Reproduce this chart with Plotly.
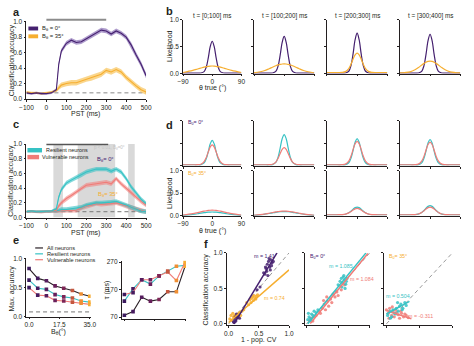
import plotly.graph_objects as go

W, H = 474, 346
def px(x): return x / W
def py(y): return 1 - y / H

FONT = 'Liberation Sans, Arial, Helvetica, sans-serif'
DARK = '#231f20'
PURPLE = '#45206f'
ORANGE = '#f6ae2f'
CYAN = '#36c2c4'
SALMON = '#f07c78'
GREY = '#8c8c8c'

# ---------------- data ----------------
PST = [-100, -75, -50, -25, 0, 25, 50, 62, 75, 100, 125, 150, 175, 200, 225, 250,
       275, 300, 325, 350, 375, 400, 425, 450, 475, 500]
ACC_0 = [0.08, 0.07, 0.08, 0.07, 0.07, 0.08, 0.12, 0.45, 0.62, 0.72, 0.76, 0.73, 0.74,
         0.78, 0.82, 0.85, 0.89, 0.88, 0.84, 0.88, 0.85, 0.80, 0.70, 0.57, 0.45, 0.30]
SEM_0 = [0.015, 0.015, 0.015, 0.015, 0.015, 0.015, 0.02, 0.03, 0.03, 0.03, 0.03, 0.03,
         0.03, 0.03, 0.03, 0.03, 0.03, 0.03, 0.03, 0.03, 0.03, 0.03, 0.035, 0.035, 0.035, 0.035]
ACC_35 = [0.09, 0.08, 0.08, 0.07, 0.08, 0.09, 0.11, 0.15, 0.18, 0.20, 0.21, 0.21, 0.23,
          0.26, 0.27, 0.29, 0.32, 0.37, 0.35, 0.38, 0.35, 0.28, 0.22, 0.17, 0.12, 0.09]
SEM_35 = [0.015, 0.015, 0.015, 0.015, 0.015, 0.015, 0.02, 0.03, 0.035, 0.035, 0.035, 0.035,
          0.035, 0.035, 0.035, 0.035, 0.035, 0.035, 0.035, 0.035, 0.035, 0.035, 0.035, 0.035, 0.035, 0.035]
CHANCE = 0.08
SIG_BAR_A = [0, 300]

RES_0 = [0.08, 0.09, 0.08, 0.08, 0.08, 0.09, 0.12, 0.28, 0.38, 0.47, 0.51, 0.55, 0.58,
         0.62, 0.64, 0.66, 0.66, 0.66, 0.63, 0.66, 0.62, 0.53, 0.42, 0.33, 0.25, 0.19]
VUL_0 = [0.08, 0.09, 0.08, 0.08, 0.08, 0.09, 0.10, 0.16, 0.20, 0.26, 0.30, 0.35, 0.40,
         0.44, 0.45, 0.46, 0.47, 0.48, 0.46, 0.53, 0.46, 0.40, 0.33, 0.28, 0.22, 0.17]
RES_35 = [0.08, 0.09, 0.08, 0.08, 0.08, 0.08, 0.09, 0.10, 0.11, 0.11, 0.12, 0.12, 0.14,
          0.17, 0.19, 0.20, 0.20, 0.20, 0.21, 0.22, 0.20, 0.17, 0.14, 0.11, 0.09, 0.08]
VUL_35 = [0.08, 0.08, 0.08, 0.07, 0.08, 0.08, 0.08, 0.09, 0.09, 0.09, 0.10, 0.10, 0.13,
          0.16, 0.17, 0.19, 0.18, 0.18, 0.19, 0.20, 0.18, 0.16, 0.13, 0.11, 0.09, 0.08]
SEM_C = [0.015, 0.015, 0.015, 0.015, 0.015, 0.015, 0.02, 0.025, 0.03, 0.03, 0.03, 0.03, 0.03,
         0.03, 0.03, 0.03, 0.03, 0.03, 0.03, 0.03, 0.03, 0.03, 0.03, 0.03, 0.03, 0.03]
SIG_WINDOWS = [(35, 83), (157, 345), (410, 443)]
SIG_BAR_C = [0, 310]

# likelihood curves: values at THETA_HALF (symmetric around 0)
THETA_HALF = [-90, -60, -45, -35, -25, -18, -12, -6, 0]
B_TITLES = ['t = [0;100] ms', 't = [100;200] ms', 't = [200;300] ms', 't = [300;400] ms']
B_0 = [[0.01, 0.01, 0.01, 0.011, 0.036, 0.127, 0.297, 0.503, 0.60],
       [0.01, 0.01, 0.01, 0.011, 0.040, 0.145, 0.341, 0.578, 0.69],
       [0.01, 0.01, 0.01, 0.011, 0.043, 0.157, 0.370, 0.628, 0.75],
       [0.01, 0.01, 0.01, 0.011, 0.042, 0.153, 0.361, 0.611, 0.73]]
B_35 = [[0.019, 0.058, 0.085, 0.103, 0.120, 0.129, 0.135, 0.139, 0.14],
        [0.011, 0.052, 0.089, 0.118, 0.145, 0.161, 0.171, 0.178, 0.18],
        [0.02, 0.02, 0.022, 0.036, 0.093, 0.178, 0.269, 0.348, 0.38],
        [0.011, 0.032, 0.07, 0.111, 0.158, 0.189, 0.211, 0.225, 0.23]]
D0_RES = [[0.02, 0.02, 0.02, 0.023, 0.061, 0.161, 0.318, 0.485, 0.56],
          [0.02, 0.02, 0.02, 0.024, 0.071, 0.196, 0.39, 0.598, 0.69],
          [0.02, 0.02, 0.02, 0.023, 0.064, 0.172, 0.34, 0.52, 0.60],
          [0.02, 0.02, 0.02, 0.023, 0.063, 0.167, 0.329, 0.503, 0.58]]
D0_VUL = [[0.02, 0.02, 0.021, 0.032, 0.089, 0.189, 0.307, 0.416, 0.46],
          [0.02, 0.02, 0.021, 0.03, 0.08, 0.166, 0.268, 0.362, 0.40],
          [0.02, 0.02, 0.021, 0.034, 0.102, 0.219, 0.36, 0.487, 0.54],
          [0.02, 0.02, 0.021, 0.034, 0.099, 0.212, 0.347, 0.47, 0.52]]
D35_RES = [[0.006, 0.026, 0.042, 0.055, 0.066, 0.072, 0.076, 0.079, 0.08],
           [0.007, 0.029, 0.048, 0.061, 0.074, 0.081, 0.086, 0.089, 0.09],
           [0.02, 0.02, 0.022, 0.031, 0.062, 0.103, 0.143, 0.177, 0.19],
           [0.02, 0.02, 0.022, 0.033, 0.07, 0.117, 0.165, 0.205, 0.22]]
D35_VUL = [[0.012, 0.043, 0.068, 0.085, 0.1, 0.109, 0.115, 0.119, 0.12],
           [0.008, 0.033, 0.053, 0.068, 0.082, 0.09, 0.096, 0.099, 0.10],
           [0.02, 0.02, 0.023, 0.033, 0.061, 0.094, 0.126, 0.15, 0.16],
           [0.02, 0.02, 0.023, 0.036, 0.07, 0.11, 0.148, 0.178, 0.19]]

B_THETA = [0, 5, 10, 15, 20, 25, 30, 35]
MAXACC_ALL = [0.83, 0.66, 0.62, 0.53, 0.49, 0.45, 0.39, 0.35]
MAXACC_RES = [0.63, 0.49, 0.47, 0.38, 0.34, 0.32, 0.27, 0.25]
MAXACC_VUL = [0.50, 0.37, 0.36, 0.28, 0.27, 0.25, 0.23, 0.21]
TAU_ALL = [77, 90, 142, 128, 134, 162, 162, 255]
TAU_RES = [128, 173, 206, 190, 220, 237, 255, 258]
TAU_VUL = [152, 159, 206, 206, 220, 234, 203, 270]
BTHETA_COLORS = ['#3b1a5e', '#461b5f', '#561d5e', '#681f5b', '#7d2556', '#c4573f', '#ef8f34', '#f6ab33']

F1_0_X = [0.60, 0.62, 0.64, 0.66, 0.68, 0.70, 0.72, 0.63, 0.67, 0.71, 0.65, 0.69, 0.61, 0.74, 0.58,
          0.52, 0.47, 0.08, 0.10, 0.12, 0.14, 0.16, 0.11, 0.13, 0.09, 0.18]
F1_0_Y = [0.70, 0.78, 0.84, 0.88, 0.80, 0.90, 0.86, 0.74, 0.92, 0.82, 0.68, 0.76, 0.80, 0.88, 0.72,
          0.52, 0.48, 0.03, 0.06, 0.04, 0.09, 0.12, 0.10, 0.14, 0.02, 0.08]
F1_35_X = [0.35, 0.38, 0.40, 0.42, 0.44, 0.46, 0.48, 0.37, 0.41, 0.45, 0.30, 0.33, 0.02, 0.05, 0.08,
           0.10, 0.12, 0.15, 0.18, 0.20, 0.22, 0.25, 0.04, 0.07, 0.13, 0.17]
F1_35_Y = [0.34, 0.36, 0.38, 0.40, 0.36, 0.39, 0.41, 0.30, 0.33, 0.35, 0.30, 0.27, 0.07, 0.05, 0.10,
           0.12, 0.08, 0.14, 0.16, 0.12, 0.18, 0.20, 0.12, 0.15, 0.11, 0.09]
F2_RES_X = [0.50, 0.53, 0.55, 0.57, 0.58, 0.60, 0.62, 0.64, 0.56, 0.59, 0.61, 0.63, 0.02, 0.04, 0.06,
            0.08, 0.10, 0.12, 0.15, 0.18, 0.03, 0.07]
F2_RES_Y = [0.55, 0.60, 0.64, 0.58, 0.66, 0.62, 0.56, 0.64, 0.52, 0.68, 0.50, 0.60, 0.06, 0.10, 0.08,
            0.14, 0.12, 0.18, 0.16, 0.20, 0.15, 0.05]
F2_VUL_X = [0.15, 0.20, 0.25, 0.28, 0.30, 0.33, 0.35, 0.38, 0.40, 0.42, 0.45, 0.48, 0.50, 0.55, 0.60,
            0.05, 0.08, 0.10, 0.12, 0.22, 0.27, 0.32]
F2_VUL_Y = [0.12, 0.18, 0.22, 0.28, 0.20, 0.32, 0.25, 0.35, 0.30, 0.42, 0.38, 0.45, 0.40, 0.48, 0.55,
            0.05, 0.08, 0.04, 0.10, 0.15, 0.33, 0.38]
F3_RES_X = [0.02, 0.05, 0.08, 0.10, 0.12, 0.15, 0.18, 0.20, 0.22, 0.25, 0.28, 0.30, 0.06, 0.14, 0.24, 0.17]
F3_RES_Y = [0.12, 0.18, 0.10, 0.20, 0.15, 0.22, 0.18, 0.25, 0.28, 0.22, 0.30, 0.26, 0.08, 0.14, 0.20, 0.30]
F3_VUL_X = [0.00, 0.03, 0.05, 0.08, 0.10, 0.12, 0.15, 0.18, 0.20, 0.23, 0.26, 0.30, 0.33, 0.04, 0.09,
            0.14, 0.22, 0.28]
F3_VUL_Y = [0.20, 0.15, 0.22, 0.12, 0.18, 0.10, 0.16, 0.13, 0.08, 0.15, 0.10, 0.12, 0.09, 0.08, 0.24,
            0.20, 0.18, 0.14]
# fits: (slope, intercept, x_start, x_end)
FIT_F1_0 = (1.41, -0.127, 0.09, 0.80)
FIT_F1_35 = (0.74, 0.02, 0.0, 1.0)
FIT_F2_RES = (1.085, -0.02, 0.02, 0.94)
FIT_F2_VUL = (1.084, -0.06, 0.06, 0.97)
FIT_F3_RES = (0.504, 0.14, 0.0, 0.35)
FIT_F3_VUL = (-0.311, 0.19, 0.0, 0.38)

# ---------------- helpers ----------------
layout = dict(width=W, height=H, margin=dict(l=0, r=0, t=0, b=0), paper_bgcolor='white',
              plot_bgcolor='rgba(0,0,0,0)', showlegend=False,
              font=dict(family=FONT, size=6.5, color=DARK))
traces, shapes, annotations = [], [], []
naxes = [0]

def axes(x0, x1, yt, yb, xr, yr, xticks, yticks, xlab=True, ylab=True, xfmt=None, yfmt=None):
    naxes[0] += 1
    s = '' if naxes[0] == 1 else str(naxes[0])
    base = dict(showline=True, linecolor=DARK, linewidth=0.8, ticks='outside', ticklen=2,
                tickwidth=0.8, tickcolor=DARK, showgrid=False, zeroline=False, fixedrange=True,
                tickfont=dict(family=FONT, size=6.5, color=DARK))
    xa = dict(base, domain=[px(x0), px(x1)], range=xr, anchor='y' + s, tickmode='array',
              tickvals=xticks, showticklabels=xlab)
    ya = dict(base, domain=[py(yb), py(yt)], range=yr, anchor='x' + s, tickmode='array',
              tickvals=yticks, showticklabels=ylab)
    if xfmt: xa['tickformat'] = xfmt
    if yfmt: ya['tickformat'] = yfmt
    layout['xaxis' + s] = xa
    layout['yaxis' + s] = ya
    return 'x' + s, 'y' + s

def line(xa, ya, x, y, color, width=1.1, dash=None, shape='linear'):
    ln = dict(color=color, width=width, shape=shape)
    if dash: ln['dash'] = dash
    traces.append(go.Scatter(x=list(x), y=list(y), mode='lines', line=ln, xaxis=xa, yaxis=ya,
                             hoverinfo='skip'))

def band(xa, ya, x, m, s, fill):
    up = [a + b for a, b in zip(m, s)]
    lo = [a - b for a, b in zip(m, s)]
    traces.append(go.Scatter(x=list(x) + list(x)[::-1], y=up + lo[::-1], mode='lines', fill='toself',
                             fillcolor=fill, line=dict(width=0), xaxis=xa, yaxis=ya, hoverinfo='skip'))

def dots(xa, ya, x, y, color, size=3.2):
    traces.append(go.Scatter(x=x, y=y, mode='markers', marker=dict(color=color, size=size, opacity=0.85,
                             line=dict(width=0)), xaxis=xa, yaxis=ya, hoverinfo='skip'))

def fit(xa, ya, f, color, width=1.5):
    m, b, x0, x1 = f
    line(xa, ya, [x0, x1], [m * x0 + b, m * x1 + b], color, width)

def text(x, y, s, size=6.5, color=DARK, anchor='center', angle=0, bold=False):
    annotations.append(dict(x=px(x), y=py(y), xref='paper', yref='paper',
                            text=('<b>' + s + '</b>' if bold else s), showarrow=False,
                            font=dict(family=FONT, size=size, color=color), xanchor=anchor,
                            yanchor='middle', textangle=angle))

def rect(x0, y0, x1, y1, color):
    shapes.append(dict(type='rect', xref='paper', yref='paper', x0=px(x0), x1=px(x1), y0=py(y1), y1=py(y0),
                       fillcolor=color, line=dict(width=0)))

def hline_paper(x0, x1, y, color, width=1):
    shapes.append(dict(type='line', xref='paper', yref='paper', x0=px(x0), x1=px(x1), y0=py(y), y1=py(y),
                       line=dict(color=color, width=width)))

def mirror(half):
    return list(half) + list(half[-2::-1])

THETA = THETA_HALF + [-t for t in THETA_HALF[-2::-1]]

# ---------------- panel a ----------------
xa, ya = axes(20, 143, 18, 97, [-100, 500], [0, 1], list(range(-100, 501, 100)),
              [0, 0.2, 0.4, 0.6, 0.8, 1.0], yfmt='.1f')
line(xa, ya, [PST[0], PST[-1]], [CHANCE, CHANCE], '#888888', 1, dash='4px,3px')
band(xa, ya, PST, ACC_35, SEM_35, 'rgba(248,192,80,0.65)')
band(xa, ya, PST, ACC_0, SEM_0, 'rgba(120,90,170,0.6)')
line(xa, ya, PST, ACC_35, ORANGE, 1.1)
line(xa, ya, PST, ACC_0, PURPLE, 1.1)
shapes.append(dict(type='line', xref=xa, yref='paper', x0=SIG_BAR_A[0], x1=SIG_BAR_A[1],
                   y0=py(16), y1=py(16), line=dict(color=GREY, width=2)))
rect(22, 23, 32, 27, PURPLE)
rect(22, 31, 32, 35, ORANGE)
text(34, 25, 'B<sub>θ</sub> = 0°', 5.8, anchor='left')
text(34, 33, 'B<sub>θ</sub> = 35°', 5.8, anchor='left')
text(4.5, 57, 'Classification accuracy', 7, angle=-90)
text(81, 112, 'PST (ms)', 7)
text(4, 8, 'a', 11, anchor='left', bold=True)

# ---------------- panel c ----------------
xc, yc = axes(20, 143, 143, 218, [-100, 500], [0, 1], list(range(-100, 501, 100)),
              [0, 0.2, 0.4, 0.6, 0.8, 1.0], yfmt='.1f')
for (w0, w1) in SIG_WINDOWS:
    shapes.append(dict(type='rect', xref=xc, yref=yc, x0=w0, x1=w1, y0=0, y1=1, fillcolor='#d9d9d9',
                       line=dict(width=0), layer='below'))
line(xc, yc, [PST[0], PST[-1]], [CHANCE, CHANCE], '#777777', 1, dash='4px,3px')
band(xc, yc, PST, VUL_35, SEM_C, 'rgba(242,124,120,0.55)')
band(xc, yc, PST, RES_35, SEM_C, 'rgba(54,194,196,0.6)')
band(xc, yc, PST, VUL_0, SEM_C, 'rgba(242,124,120,0.55)')
band(xc, yc, PST, RES_0, SEM_C, 'rgba(54,194,196,0.6)')
line(xc, yc, PST, VUL_35, SALMON, 1.1)
line(xc, yc, PST, RES_35, CYAN, 1.1)
line(xc, yc, PST, VUL_0, SALMON, 1.1)
line(xc, yc, PST, RES_0, CYAN, 1.1)
shapes.append(dict(type='line', xref=xc, yref='paper', x0=SIG_BAR_C[0], x1=SIG_BAR_C[1],
                   y0=py(143.5), y1=py(143.5), line=dict(color='#555555', width=1.5)))
text(105, 147, 'p < 0.01, B<sub>θ</sub>=0°', 4.5, color='#c4c4c4')
rect(21, 147, 36, 151.5, CYAN)
rect(21, 154, 33, 158.5, SALMON)
text(38, 149.3, 'Resilient neurons', 5.4, anchor='left')
text(34, 156.3, 'Vulnerable neurons', 5.4, anchor='left')
text(101, 158.5, 'B<sub>θ</sub>= 0°', 5.8, color=PURPLE)
text(104, 194, 'B<sub>θ</sub>= 35°', 5.8, color=ORANGE)
text(4.5, 180, 'Classification accuracy', 7, angle=-90)
text(81, 234, 'PST (ms)', 7)
text(4, 122, 'c', 11, anchor='left', bold=True)

# ---------------- panel b ----------------
COLX = [181, 254, 329, 404]
COLW = [60, 62, 62, 62]
for i, x0 in enumerate(COLX):
    first = (i == 0)
    xb, yb = axes(x0, x0 + COLW[i], 16, 71, [-90, 90], [0, 1], [-90, 0, 90], [0, 0.5, 1],
                  xlab=first, ylab=first, yfmt='.1f')
    line(xb, yb, THETA, mirror(B_0[i]), PURPLE, 1.2, shape='spline')
    line(xb, yb, THETA, mirror(B_35[i]), ORANGE, 1.2, shape='spline')
    text(x0 + COLW[i] / 2, 12, B_TITLES[i], 6.3)
text(166.5, 43, 'Likelihood', 7, angle=-90)
text(211, 85.5, 'θ true (°)', 7)
text(161, 7, 'b', 11, anchor='left', bold=True)

# ---------------- panel d ----------------
for r, (ytop, ybot, RES, VUL) in enumerate([(119, 165, D0_RES, D0_VUL), (170, 216, D35_RES, D35_VUL)]):
    for i, x0 in enumerate(COLX):
        lab = (i == 0 and r == 1)
        xd, yd = axes(x0, x0 + COLW[i], ytop, ybot, [-90, 90], [0, 1], [-90, 0, 90], [0, 0.5, 1],
                      xlab=lab, ylab=lab, yfmt='.1f')
        line(xd, yd, THETA, mirror(RES[i]), CYAN, 1.2, shape='spline')
        line(xd, yd, THETA, mirror(VUL[i]), SALMON, 1.2, shape='spline')
text(184, 121, 'B<sub>θ</sub>= 0°', 5.3, color=PURPLE, anchor='left')
text(184, 173, 'B<sub>θ</sub>= 35°', 5.3, color=ORANGE, anchor='left')
text(166.5, 193, 'Likelihood', 7, angle=-90)
text(211, 231.5, 'θ true (°)', 7)
text(161, 124, 'd', 11, anchor='left', bold=True)

# ---------------- panel e ----------------
xe, ye = axes(20, 86, 260, 319, [-1.5, 35.5], [0, 1], [0, 17.5, 35], [0, 0.5, 1],
              xfmt='.1f', yfmt='.1f')
line(xe, ye, [B_THETA[0], B_THETA[-1]], [CHANCE, CHANCE], '#777777', 1, dash='4px,3px')
for vals, col in [(MAXACC_ALL, '#2a2026'), (MAXACC_RES, CYAN), (MAXACC_VUL, SALMON)]:
    traces.append(go.Scatter(x=B_THETA, y=vals, mode='lines+markers', line=dict(color=col, width=1.1),
                             marker=dict(color=BTHETA_COLORS, size=3.6, symbol='square'),
                             xaxis=xe, yaxis=ye, hoverinfo='skip'))
hline_paper(29, 37, 249, '#2a2026', 1.2)
hline_paper(29, 37, 255, CYAN, 1.2)
hline_paper(29, 37, 261, SALMON, 1.2)
text(39, 249, 'All neurons', 5.6, anchor='left')
text(39, 255, 'Resilient neurons', 5.6, anchor='left')
text(39, 261, 'Vulnerable neurons', 5.6, anchor='left')
text(5.5, 290, 'Max. accuracy', 7, angle=-90)
text(53, 334.5, 'B<sub>θ</sub>(°)', 7)
text(4, 241, 'e', 11, anchor='left', bold=True)

xe2, ye2 = axes(118, 184, 262, 321, [-1.5, 35.5], [65, 275], [0, 17.5, 35], [70, 170, 270], xlab=False)
for vals, col in [(TAU_ALL, '#2a2026'), (TAU_RES, CYAN), (TAU_VUL, SALMON)]:
    traces.append(go.Scatter(x=B_THETA, y=vals, mode='lines+markers', line=dict(color=col, width=1.1),
                             marker=dict(color=BTHETA_COLORS, size=3.6, symbol='square'),
                             xaxis=xe2, yaxis=ye2, hoverinfo='skip'))
text(103, 292, 'τ (ms)', 7, angle=-90)

# ---------------- panel f ----------------
xf1, yf1 = axes(226, 290, 254, 328, [-0.03, 1.0], [-0.02, 1.0], [0, 0.5, 1], [0, 0.5, 1],
                xfmt='.1f', yfmt='.1f')
line(xf1, yf1, [0, 1], [0, 1], '#9a9a9a', 1, dash='4px,3px')
dots(xf1, yf1, F1_35_X, F1_35_Y, ORANGE)
dots(xf1, yf1, F1_0_X, F1_0_Y, PURPLE)
fit(xf1, yf1, FIT_F1_35, ORANGE)
fit(xf1, yf1, FIT_F1_0, PURPLE)
text(265, 257, 'm = 1.41', 5.3, color=PURPLE)
text(275, 300, 'm = 0.74', 5.3, color=ORANGE)
text(205, 291, 'Classification accuracy', 7, angle=-90)
text(259, 342.5, '1 - pop. CV', 7)
text(200, 245, 'f', 11, anchor='left', bold=True)

xf2, yf2 = axes(306, 373, 254, 328, [-0.03, 1.0], [-0.02, 1.0], [0, 0.5, 1], [0, 0.5, 1],
                xlab=False, ylab=False)
line(xf2, yf2, [0, 1], [0, 1], '#9a9a9a', 1, dash='4px,3px')
dots(xf2, yf2, F2_VUL_X, F2_VUL_Y, SALMON)
dots(xf2, yf2, F2_RES_X, F2_RES_Y, CYAN)
fit(xf2, yf2, FIT_F2_VUL, SALMON)
fit(xf2, yf2, FIT_F2_RES, CYAN)
text(310, 258, 'B<sub>θ</sub>= 0°', 5.3, color=PURPLE, anchor='left')
text(343, 267, 'm = 1.085', 5.3, color=CYAN)
text(365, 281, 'm = 1.084', 5.3, color=SALMON)

xf3, yf3 = axes(388, 458, 254, 328, [-0.03, 1.0], [-0.02, 1.0], [0, 0.5, 1], [0, 0.5, 1],
                xlab=False, ylab=False)
line(xf3, yf3, [0, 1], [0, 1], '#9a9a9a', 1, dash='4px,3px')
dots(xf3, yf3, F3_VUL_X, F3_VUL_Y, SALMON)
dots(xf3, yf3, F3_RES_X, F3_RES_Y, CYAN)
fit(xf3, yf3, FIT_F3_VUL, SALMON)
fit(xf3, yf3, FIT_F3_RES, CYAN)
text(391, 258, 'B<sub>θ</sub>= 35°', 5.3, color=ORANGE, anchor='left')
text(402, 298, 'm = 0.504', 5.3, color=CYAN)
text(425, 318, 'm = -0.311', 5.3, color=SALMON)

layout['shapes'] = shapes
layout['annotations'] = annotations
fig = go.Figure(data=traces, layout=go.Layout(**layout))
fig.write_html('out.html')
